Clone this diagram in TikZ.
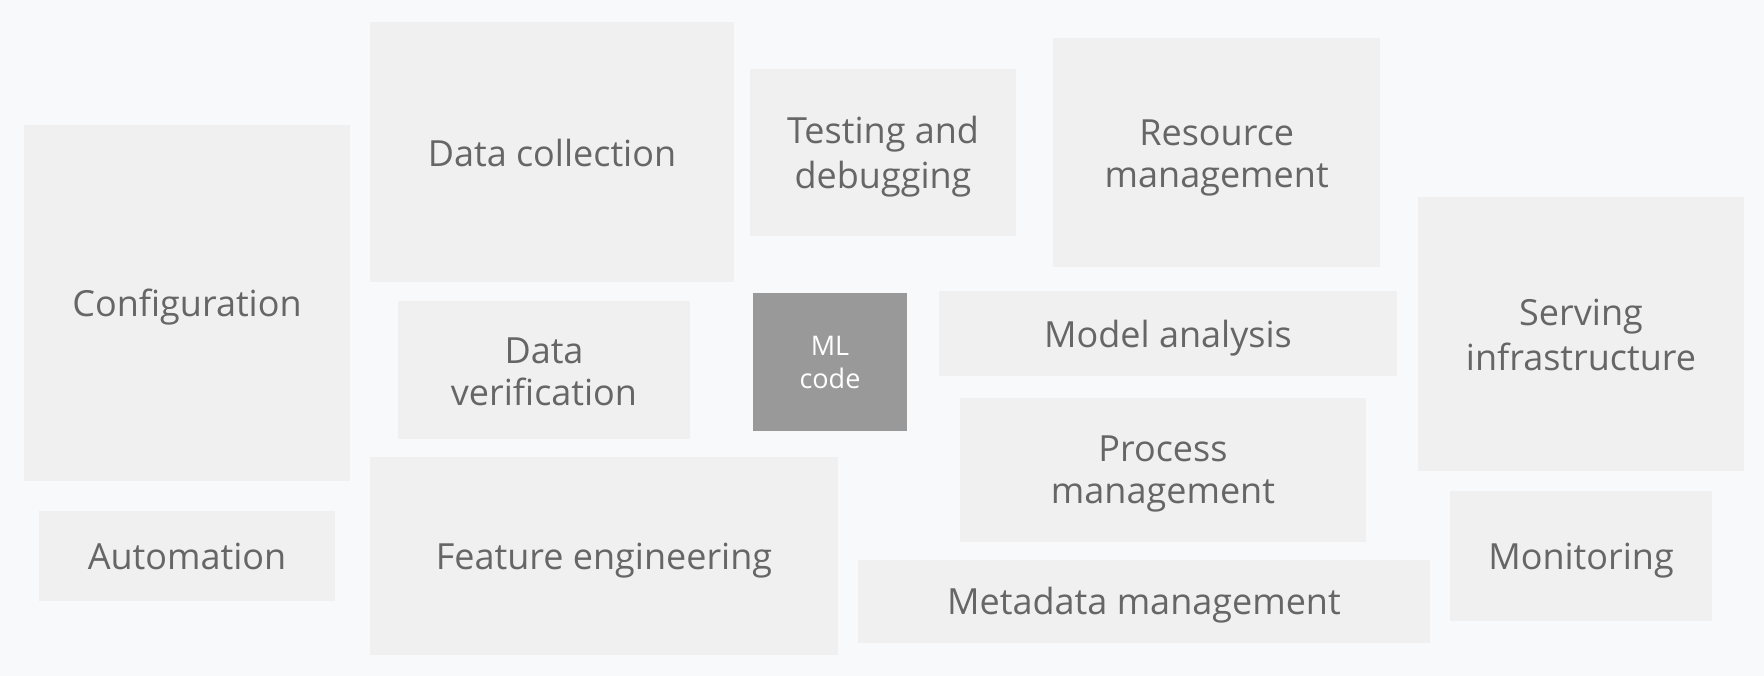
\documentclass[tikz,border=0pt]{standalone}
\usepackage{fontspec}
\setmainfont{Open Sans}
\definecolor{bgc}{HTML}{F8F9FA}
\definecolor{boxc}{HTML}{F0F0F0}
\definecolor{mlc}{HTML}{999999}
\definecolor{txtc}{HTML}{666666}
\newcommand\bst{\rule[-6.6pt]{0pt}{42pt}}
\newcommand\mst{\rule[-7pt]{0pt}{33pt}}
\begin{document}
\begin{tikzpicture}[x=1pt,y=-1pt,
  box/.style={fill=boxc,draw=none,inner sep=0pt,align=center,text=txtc,
    font=\fontsize{36}{42}\selectfont},
  mlbox/.style={fill=mlc,draw=none,inner sep=0pt,align=center,text=white,
    font=\fontsize{27}{33}\selectfont}]
\fill[bgc] (0,0) rectangle (1764,676);
\useasboundingbox (0,0) rectangle (1764,676);
\node[box,minimum width=326,minimum height=356] (conf) at (187,303) {\bst Configuration};
\node[box,minimum width=364,minimum height=260] (dcol) at (552,152.4) {\bst Data collection};
\node[box,minimum width=266,minimum height=167] (test) at (883,152.5) {\bst Testing and\\\bst debugging};
\node[box,minimum width=327,minimum height=229] (res) at (1216.7,152.7) {\bst Resource\\\bst management};
\node[box,minimum width=326.5,minimum height=274] (serv) at (1581,334) {\bst Serving\\\bst infrastructure};
\node[box,minimum width=292.5,minimum height=138.5] (dver) at (544,370) {\bst Data\\\bst verification};
\node[mlbox,minimum width=154,minimum height=138] (ml) at (830,362) {\mst ML\\\mst code};
\node[box,minimum width=458,minimum height=84.6] (mod) at (1168,333.7) {\bst Model analysis};
\node[box,minimum width=405.7,minimum height=144] (proc) at (1163,469.5) {\bst Process\\\bst management};
\node[box,minimum width=295.6,minimum height=90] (auto) at (187,555.5) {\bst Automation};
\node[box,minimum width=467.5,minimum height=197.5] (feat) at (604,556) {\bst Feature engineering};
\node[box,minimum width=572,minimum height=83] (meta) at (1144,601) {\bst Metadata management};
\node[box,minimum width=262,minimum height=130] (mon) at (1581,555.7) {\bst Monitoring};
\end{tikzpicture}
\end{document}
